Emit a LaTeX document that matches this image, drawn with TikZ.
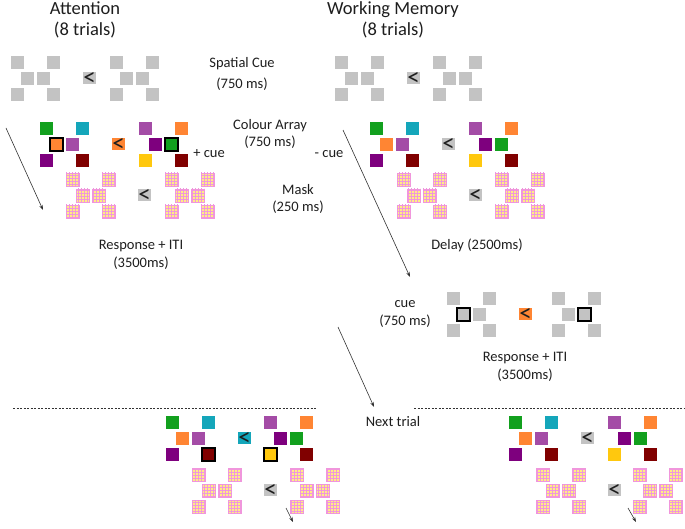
\documentclass[tikz,border=0pt]{standalone}
\usepackage{fontspec}
\setmainfont{Carlito}
\usetikzlibrary{patterns,arrows.meta}

\definecolor{cGray}{RGB}{195,195,195}
\definecolor{cGreen}{RGB}{18,160,30}
\definecolor{cCyan}{RGB}{20,166,186}
\definecolor{cOrange}{RGB}{255,133,51}
\definecolor{cLilac}{RGB}{164,76,166}
\definecolor{cPurple}{RGB}{126,0,126}
\definecolor{cDark}{RGB}{128,0,0}
\definecolor{cYellow}{RGB}{255,200,14}
\definecolor{cMaskY}{RGB}{255,238,130}
\definecolor{cMaskP}{RGB}{240,150,220}
\definecolor{cText}{RGB}{30,30,30}
\definecolor{cLine}{RGB}{50,50,50}

\newcommand{\lt}{\makebox[0pt]{\raisebox{-0.3em}[0pt][0pt]{<}}}

\tikzset{
	sq/.style={minimum size=13pt, inner sep=0pt, outer sep=0pt, anchor=north west},
	gy/.style={fill=cGray},
	gn/.style={fill=cGreen},
	cy/.style={fill=cCyan},
	or/.style={fill=cOrange},
	lp/.style={fill=cLilac},
	pu/.style={fill=cPurple},
	dr/.style={fill=cDark},
	ye/.style={fill=cYellow},
	hl/.style={draw=black, line width=2.2pt},
	gyh/.style={gy,hl},
	gnh/.style={gn,hl},
	orh/.style={or,hl},
	drh/.style={dr,hl},
	yeh/.style={ye,hl},
	mk/.style={fill=cMaskY, draw=cMaskP, line width=0.8pt, postaction={pattern=grid, pattern color=cMaskP}},
	cuebox/.style={minimum width=13pt, minimum height=12pt, inner sep=0pt, outer sep=0pt, anchor=north west, font=\fontsize{25}{25}\selectfont, text=cText},
	lbl/.style={font=\fontsize{14.5}{17.5}\selectfont, align=center, text=cText},
	title/.style={font=\fontsize{18.5}{21}\selectfont, align=center, text=cText},
	arr/.style={-{Stealth[length=5pt,width=3.5pt]}, draw=cLine, line width=0.6pt},
	dsh/.style={draw=cLine, line width=0.7pt, dash pattern=on 2pt off 1.5pt}
}

\newcommand{\screen}[6]{%
	\foreach \sty [count=\k from 0] in {#5} {
		\pgfmathtruncatemacro{\kk}{mod(\k,6)}
		\pgfmathsetmacro{\gx}{{0,36,10,26,0,36}[\kk]+(\k>5)*#4}
		\pgfmathsetmacro{\gy}{{0,0,16,16,32,32}[\kk]}
		\node[sq,\sty] (#1_\k) at (#2+\gx,#3+\gy) {};
	}
	\node[cuebox,#6] (#1_cue) at (#2+72,#3+16) {\lt};
}

\begin{document}
\begin{tikzpicture}[x=1pt,y=-1pt]
	\fill[white] (0,0) rectangle (685,529);
	\useasboundingbox (0,0) rectangle (685,529);

	\node[title] (att_title) at (85,20) {Attention\\(8 trials)};
	\node[title] (wm_title) at (393,20) {Working Memory\\(8 trials)};

	\screen{att_sp}{11}{56}{99}{gy,gy,gy,gy,gy,gy,gy,gy,gy,gy,gy,gy}{gy}
	\screen{att_col}{40}{122}{99}{gn,cy,orh,lp,pu,dr,lp,or,pu,gnh,ye,dr}{or}
	\screen{att_mk}{66}{173}{99}{mk,mk,mk,mk,mk,mk,mk,mk,mk,mk,mk,mk}{gy}

	\screen{wm_sp}{335}{56}{98}{gy,gy,gy,gy,gy,gy,gy,gy,gy,gy,gy,gy}{gy}
	\screen{wm_col}{370}{122}{99}{gn,cy,or,lp,pu,dr,lp,or,pu,gn,ye,dr}{gy}
	\screen{wm_mk}{397}{173}{98}{mk,mk,mk,mk,mk,mk,mk,mk,mk,mk,mk,mk}{gy}
	\screen{wm_cue}{447}{292}{105}{gy,gy,gyh,gy,gy,gy,gy,gy,gy,gyh,gy,gy}{or}

	\screen{next_att_col}{166}{416}{98}{gn,cy,or,lp,pu,drh,lp,or,pu,gn,yeh,dr}{cy}
	\screen{next_att_mk}{192}{468}{98}{mk,mk,mk,mk,mk,mk,mk,mk,mk,mk,mk,mk}{gy}
	\screen{next_wm_col}{509}{416}{99}{gn,cy,or,lp,pu,dr,lp,or,pu,gn,ye,dr}{gy}
	\screen{next_wm_mk}{536}{468}{97}{mk,mk,mk,mk,mk,mk,mk,mk,mk,mk,mk,mk}{gy}

	\node[lbl] (lbl_sp) at (242,74) {Spatial Cue\\[3pt](750 ms)};
	\node[lbl] (lbl_col) at (270,134) {Colour Array\\(750 ms)};
	\node[lbl] (lbl_plus) at (209,154) {+ cue};
	\node[lbl] (lbl_minus) at (329,154) {- cue};
	\node[lbl] (lbl_mk) at (298,199) {Mask\\(250 ms)};
	\node[lbl] (lbl_att_resp) at (141,255) {Response + ITI\\(3500ms)};
	\node[lbl] (lbl_delay) at (477,245) {Delay (2500ms)};
	\node[lbl] (lbl_cue) at (405,314) {cue\\(750 ms)};
	\node[lbl] (lbl_wm_resp) at (525,367) {Response + ITI\\(3500ms)};
	\node[lbl] (lbl_next) at (393,422) {Next trial};

	\coordinate (att_from) at (6,128);
	\coordinate (att_to) at (43,210);
	\coordinate (wm_from) at (343,130);
	\coordinate (wm_to) at (410,277);
	\coordinate (cue_from) at (338,327);
	\coordinate (cue_to) at (374,407);
	\coordinate (next_att_from) at (286,508);
	\coordinate (next_att_to) at (293,522);
	\coordinate (next_wm_from) at (628,508);
	\coordinate (next_wm_to) at (636,522);
	\coordinate (sep_att_l) at (13,408);
	\coordinate (sep_att_r) at (317,408);
	\coordinate (sep_wm_l) at (414,408);
	\coordinate (sep_wm_r) at (685,408);

	\draw[arr] (att_from) -- (att_to);
	\draw[arr] (wm_from) -- (wm_to);
	\draw[arr] (cue_from) -- (cue_to);
	\draw[arr] (next_att_from) -- (next_att_to);
	\draw[arr] (next_wm_from) -- (next_wm_to);
	\draw[dsh] (sep_att_l) -- (sep_att_r);
	\draw[dsh] (sep_wm_l) -- (sep_wm_r);
\end{tikzpicture}
\end{document}
